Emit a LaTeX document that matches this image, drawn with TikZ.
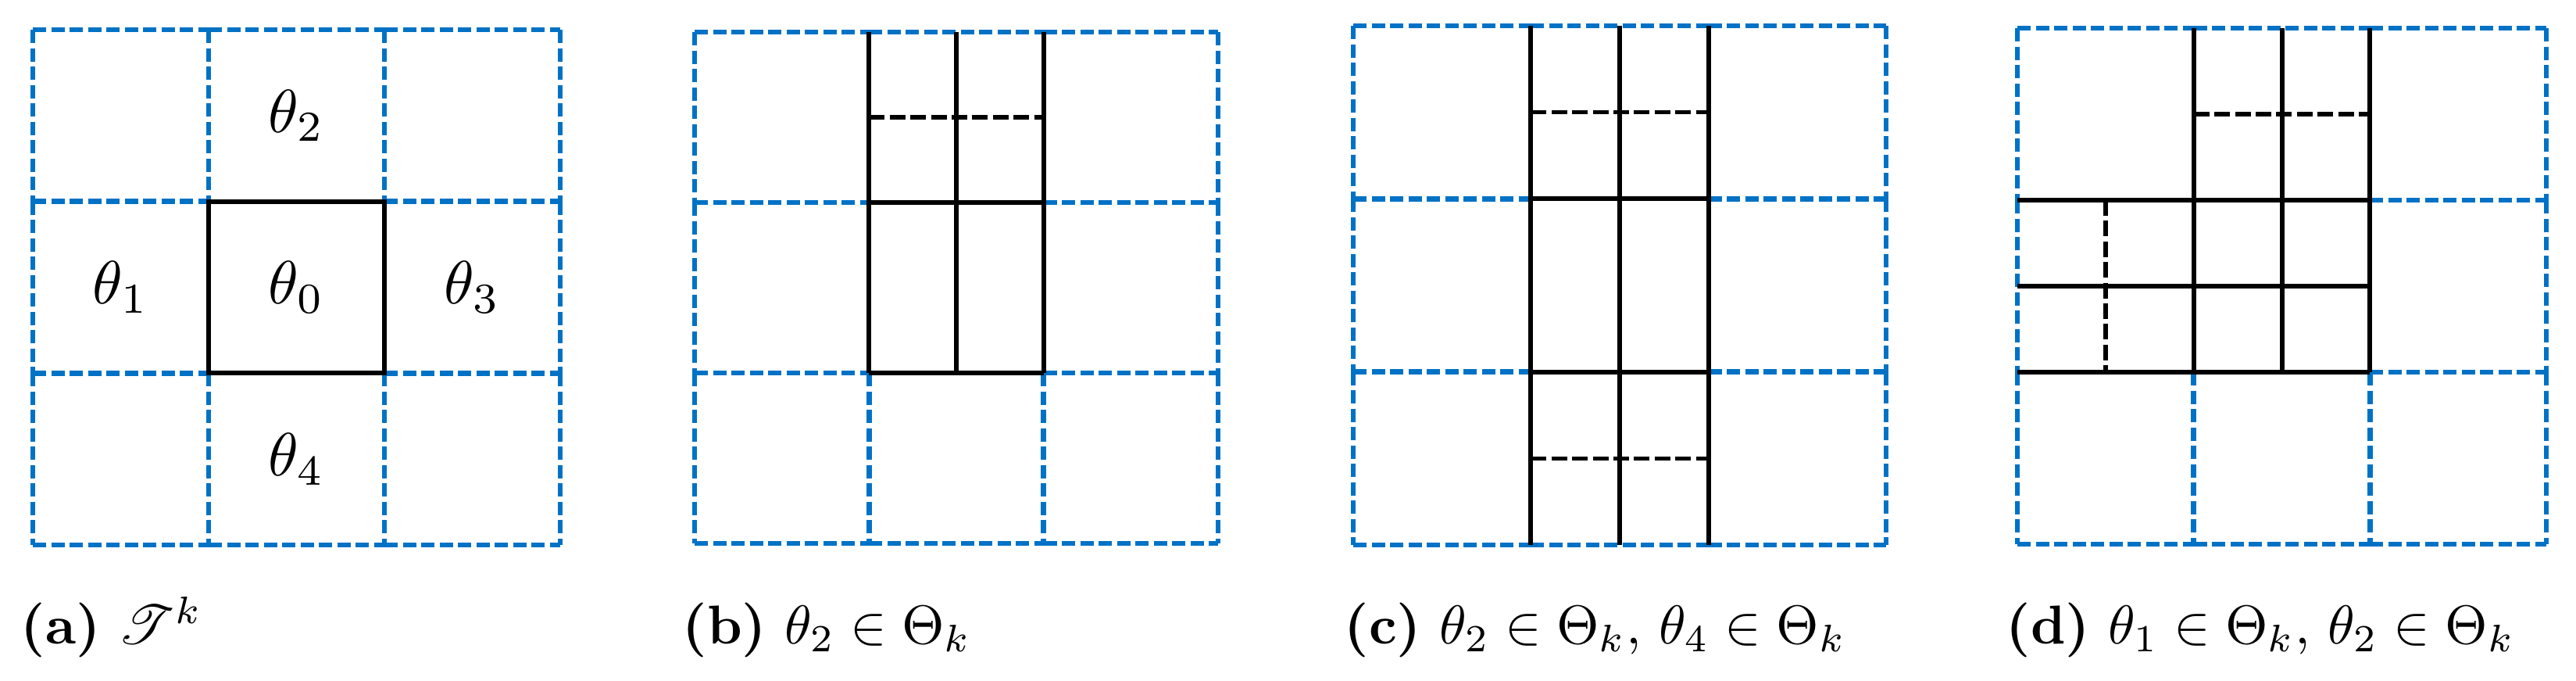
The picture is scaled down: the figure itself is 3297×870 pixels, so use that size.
\documentclass[tikz,border=0pt]{standalone}
\usepackage{graphicx}
\IfFileExists{mathrsfs.sty}{\usepackage{mathrsfs}}{\newcommand\mathscr{\mathcal}}
\definecolor{gridblue}{RGB}{0,114,198}
\tikzset{
  bl/.style={draw=gridblue, line width=1.7pt, dash pattern=on 4.25pt off 1.625pt},
  bk/.style={draw=black, line width=1.5pt},
  bkd/.style={draw=black, line width=1.4pt, dash pattern=on 5pt off 1.6pt},
  celltxt/.style={inner sep=0pt},
  captxt/.style={anchor=base west, inner sep=0pt},
}
\newcommand\cl[1]{\scalebox{1.95}{$#1$}}
\newcommand\cp[1]{\scalebox{1.75}{#1}}
\newcommand\defgrid[5]{%
  \foreach \i in {0,...,6}{\foreach \j in {0,...,6}{%
    \coordinate (#1\i\j) at ({#2+(#4-#2)*\i/6},{#3+(#5-#3)*\j/6});
  }}}
\begin{document}
\begin{tikzpicture}[x=0.25pt,y=-0.25pt]
\useasboundingbox (0,0) rectangle (3297,870);
% ---------- panel (a)
\defgrid{a}{42}{38}{717}{697}
\draw[bl] (a00)--(a20) (a20)--(a40) (a40)--(a60)
  (a02)--(a22) (a42)--(a62)
  (a04)--(a24) (a44)--(a64)
  (a06)--(a26) (a26)--(a46) (a46)--(a66)
  (a00)--(a02) (a02)--(a04) (a04)--(a06)
  (a20)--(a22) (a24)--(a26)
  (a40)--(a42) (a44)--(a46)
  (a60)--(a62) (a62)--(a64) (a64)--(a66);
\draw[bk] (a22) rectangle (a44);
\node[celltxt] (t2) at (a31) {\cl{\theta_2}};
\node[celltxt] (t1) at (a13) {\cl{\theta_1}};
\node[celltxt] (t0) at (a33) {\cl{\theta_0}};
\node[celltxt] (t3) at (a53) {\cl{\theta_3}};
\node[celltxt] (t4) at (a35) {\cl{\theta_4}};
\node[captxt] (ca) at (26,823) {\cp{\textbf{(a)} $\mathscr{T}^k$}};
% ---------- panel (b)
\defgrid{b}{889}{41}{1559}{695}
\draw[bl] (b00)--(b20) (b20)--(b40) (b40)--(b60)
  (b02)--(b22) (b42)--(b62)
  (b04)--(b24) (b44)--(b64)
  (b06)--(b26) (b26)--(b46) (b46)--(b66)
  (b00)--(b02) (b02)--(b04) (b04)--(b06)
  (b24)--(b26) (b44)--(b46)
  (b60)--(b62) (b62)--(b64) (b64)--(b66);
\draw[bk] (b20)--(b24) (b30)--(b34) (b40)--(b44) (b22)--(b42) (b24)--(b44);
\draw[bkd] (b21)--(b41);
\node[captxt] (cb) at (873,823) {\cp{\textbf{(b)} $\theta_2\in\Theta_k$}};
% ---------- panel (c)
\defgrid{c}{1732}{33}{2414}{697}
\draw[bl] (c00)--(c20) (c20)--(c40) (c40)--(c60)
  (c02)--(c22) (c42)--(c62)
  (c04)--(c24) (c44)--(c64)
  (c06)--(c26) (c26)--(c46) (c46)--(c66)
  (c00)--(c02) (c02)--(c04) (c04)--(c06)
  (c60)--(c62) (c62)--(c64) (c64)--(c66);
\draw[bk] (c20)--(c26) (c30)--(c36) (c40)--(c46) (c22)--(c42) (c24)--(c44);
\draw[bkd] (c21)--(c41) (c25)--(c45);
\node[captxt] (cc) at (1720,823) {\cp{\textbf{(c)} $\theta_2\in\Theta_k$, $\theta_4\in\Theta_k$}};
% ---------- panel (d)
\defgrid{d}{2582}{36}{3259}{696}
\draw[bl] (d00)--(d20) (d20)--(d40) (d40)--(d60)
  (d42)--(d62)
  (d44)--(d64)
  (d06)--(d26) (d26)--(d46) (d46)--(d66)
  (d00)--(d02) (d02)--(d04) (d04)--(d06)
  (d24)--(d26) (d44)--(d46)
  (d60)--(d62) (d62)--(d64) (d64)--(d66);
\draw[bk] (d20)--(d24) (d30)--(d34) (d40)--(d44)
  (d02)--(d42) (d03)--(d43) (d04)--(d44);
\draw[bkd] (d21)--(d41) (d12)--(d14);
\node[captxt] (cd) at (2567,823) {\cp{\textbf{(d)} $\theta_1\in\Theta_k$, $\theta_2\in\Theta_k$}};
\end{tikzpicture}
\end{document}
